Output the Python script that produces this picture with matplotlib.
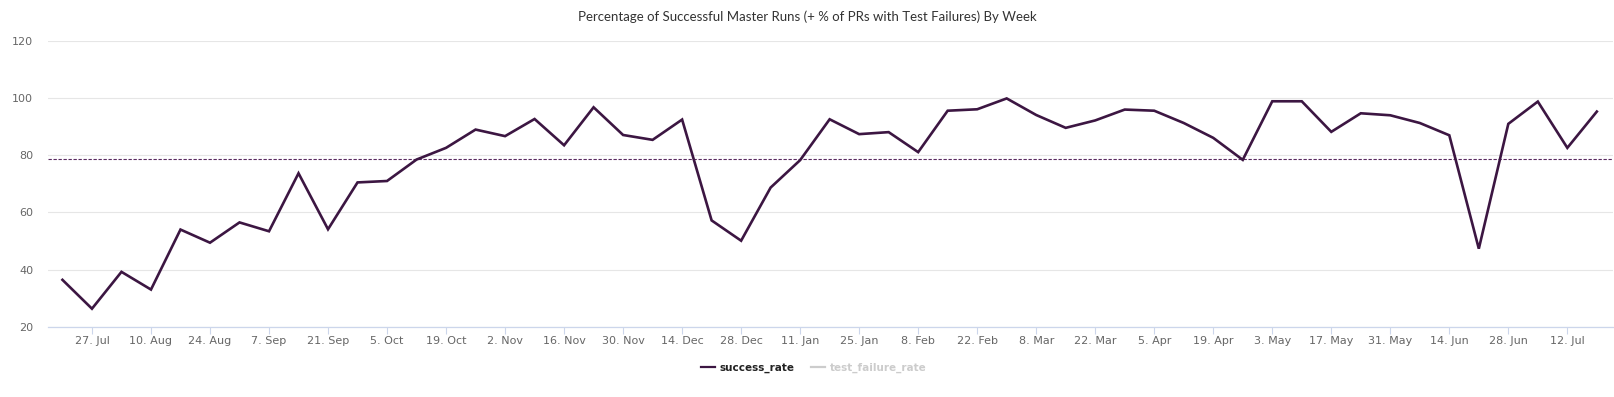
import matplotlib
matplotlib.use('Agg')
import matplotlib.pyplot as plt
import matplotlib.dates as mdates
import numpy as np
import pandas as pd
from matplotlib.lines import Line2D
from matplotlib.ticker import FuncFormatter

# weekly buckets, Monday starts
weeks = pd.date_range('2020-07-20', '2021-07-19', freq='7D')
success_rate = [
    36.4, 26.3, 39.2, 33.0, 54.0, 49.4, 56.5, 53.4, 73.7, 54.1,
    70.5, 71.0, 78.5, 82.6, 89.0, 86.7, 92.7, 83.5, 96.8, 87.1,
    85.4, 92.5, 57.2, 50.1, 68.7, 78.3, 92.6, 87.4, 88.1, 81.1,
    95.6, 96.1, 99.9, 94.1, 89.6, 92.2, 96.0, 95.6, 91.3, 86.1,
    78.4, 98.9, 98.9, 88.2, 94.7, 94.0, 91.3, 87.0, 47.3, 91.0,
    98.8, 82.6, 95.3,
]
avg_line = 78.7
y_ticks = [20, 40, 60, 80, 100, 120]
tick_start = '2020-07-27'

line_color = '#3c1642'
axis_color = '#ccd6eb'
grid_color = '#e6e6e6'
label_color = '#666666'


def main():
    W, H = 1614, 397
    fig = plt.figure(figsize=(W / 100, H / 100), dpi=100)
    fig.set_facecolor('white')

    ax = fig.add_axes([47.7 / W, 70.3 / H, (1613 - 47.7) / W, (326.7 - 41) / H])

    ax.plot(weeks, success_rate, color=line_color, lw=1.9, solid_joinstyle='miter', zorder=3)
    ax.axhline(avg_line, color='#5a2a60', lw=0.8, ls=(0, (3, 1.5)), zorder=2)

    ax.set_ylim(20, 120)
    ax.set_yticks(y_ticks)
    ax.set_xlim(pd.Timestamp('2020-07-16 12:00'), pd.Timestamp('2021-07-22 20:00'))
    ax.set_xticks(pd.date_range(tick_start, '2021-07-12', freq='14D'))
    ax.xaxis.set_major_formatter(FuncFormatter(
        lambda v, pos: '{}. {}'.format(mdates.num2date(v).day, mdates.num2date(v).strftime('%b'))))

    ax.grid(axis='y', color=grid_color, lw=0.8)
    ax.set_axisbelow(True)
    for side in ['top', 'right', 'left']:
        ax.spines[side].set_visible(False)
    ax.spines['bottom'].set_color(axis_color)
    ax.spines['bottom'].set_linewidth(0.9)

    ax.tick_params(axis='x', direction='out', length=5, width=0.8, color=axis_color,
                   labelsize=8, labelcolor=label_color, pad=1.5)
    ax.tick_params(axis='y', length=0, labelsize=8, labelcolor=label_color, pad=10.4)

    fig.text(0.5, 1 - 17 / H, 'Percentage of Successful Master Runs (+ % of PRs with Test Failures) By Week',
             ha='center', va='center', fontsize=9.5, color='#333333', family='Lato')

    handles = [Line2D([], [], color=line_color, lw=1.6),
               Line2D([], [], color='#cccccc', lw=1.6)]
    leg = fig.legend(handles, ['success_rate', 'test_failure_rate'], loc='center',
                     bbox_to_anchor=(814 / W, 1 - 368 / H), ncol=2, frameon=False,
                     prop={'size': 7.5, 'weight': 'bold'}, handlelength=1.3,
                     handletextpad=0.5, columnspacing=1.6)
    leg.get_texts()[0].set_color('#222222')
    leg.get_texts()[1].set_color('#cccccc')

    fig.savefig('out.png', dpi=100)


if __name__ == '__main__':
    main()
